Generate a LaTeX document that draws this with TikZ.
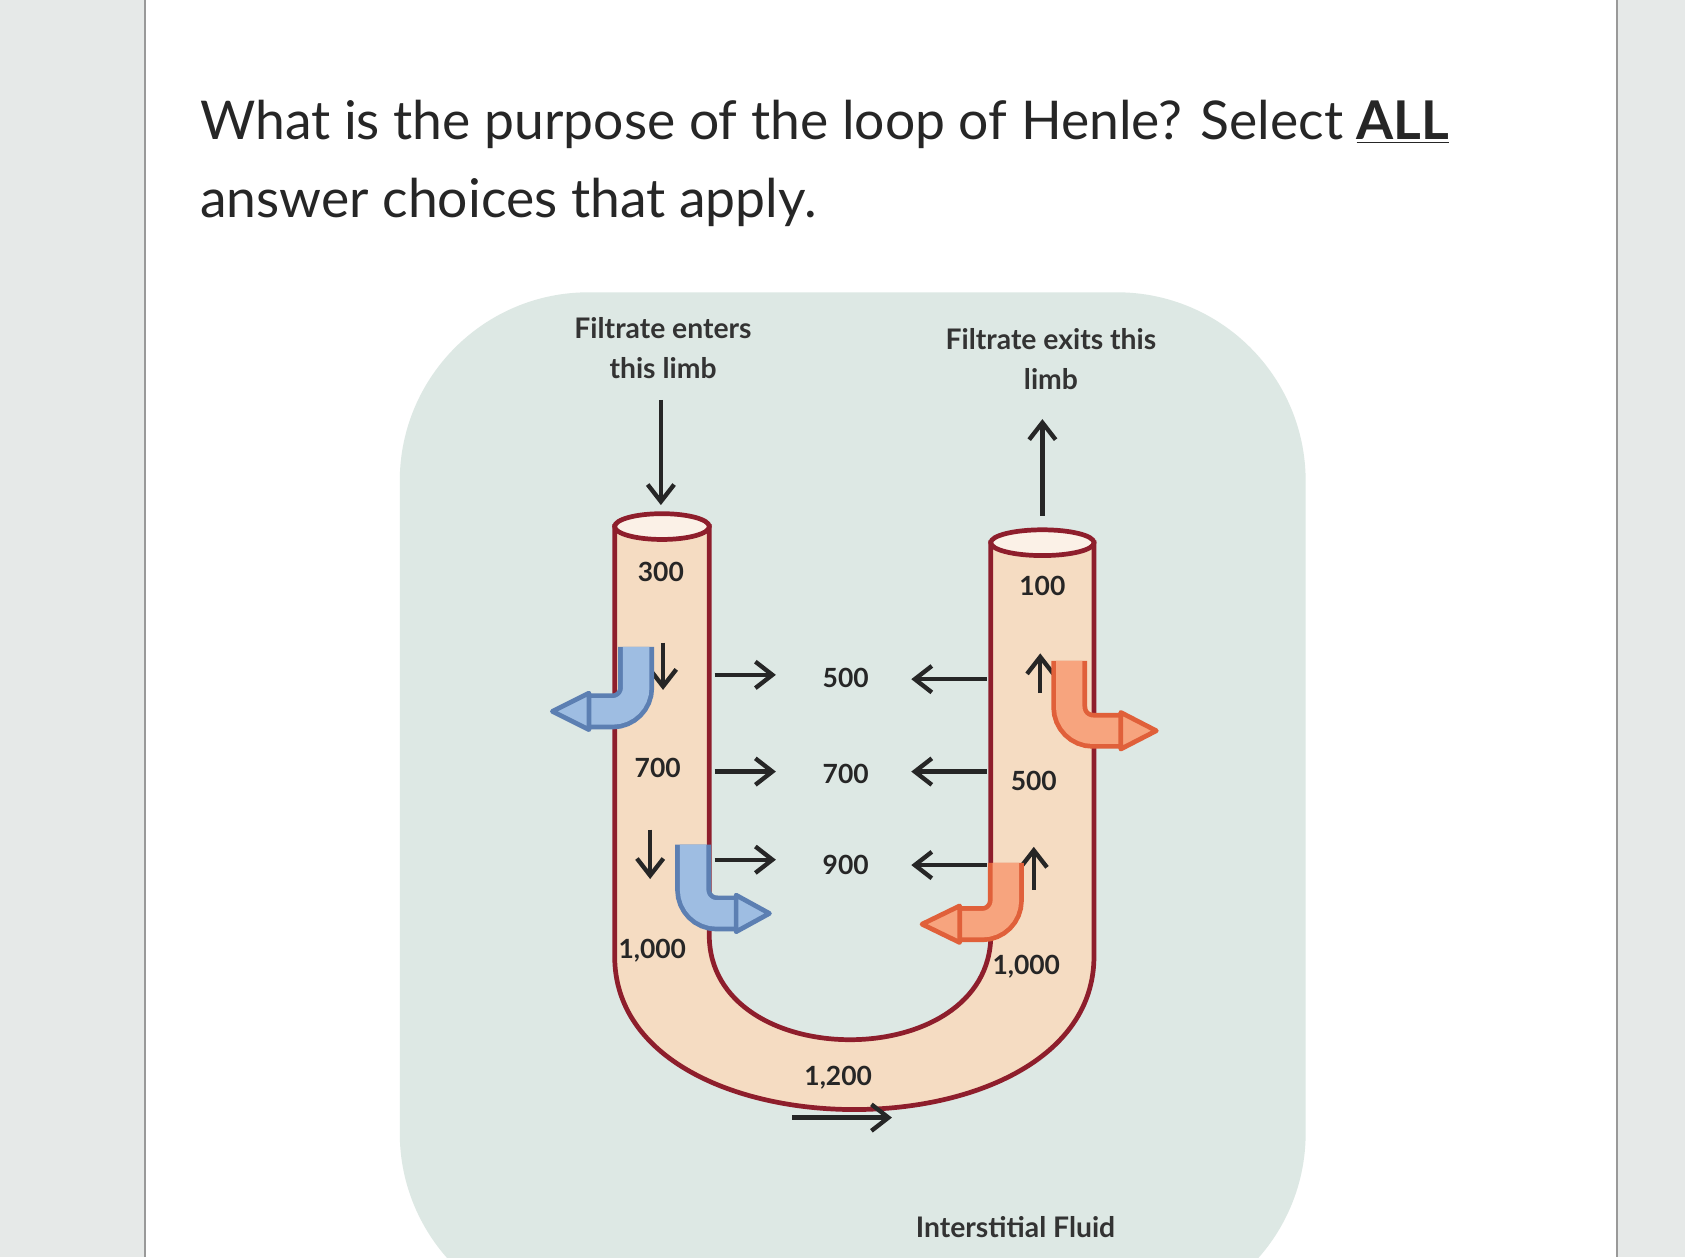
\documentclass[tikz,border=0pt]{standalone}
\usepackage{fontspec}
\setmainfont{Lato}
\usetikzlibrary{arrows.meta}
\definecolor{bgc}{HTML}{E6E9E8}
\definecolor{panel}{HTML}{DDE8E4}
\definecolor{tube}{HTML}{F5DCC2}
\definecolor{tubeline}{HTML}{8E1E2C}
\definecolor{bluef}{HTML}{9EBDE2}
\definecolor{bluel}{HTML}{5C7FB2}
\definecolor{oranf}{HTML}{F7A47E}
\definecolor{oranl}{HTML}{E0603A}
\tikzset{
 lbl/.style={font=\fontsize{15}{19}\selectfont\bfseries, text=black!80, align=center},
 num/.style={font=\fontsize{14}{18}\selectfont\bfseries, text=black!85},
 arr/.style={-{Straight Barb[length=9pt,width=14pt]}, line width=2.3pt, black!85},
}
\newcommand{\fatarrow}[4]{% fill, line, path, head coords
 \draw[#2, line width=19] #3;
 \draw[#1, line width=14] #3;
 \filldraw[fill=#1, draw=#2, line width=2.5, line join=round] #4;
}
\begin{document}
\begin{tikzpicture}[x=0.02cm,y=-0.02cm]
\useasboundingbox (0,0) rectangle (1568,1170);
\fill[bgc] (0,0) rectangle (1568,1170);
\fill[white] (135,0) rectangle (1505,1170);
\draw[black!40, line width=1] (135,0) -- (135,1170);
\draw[black!40, line width=1] (1505,0) -- (1505,1170);
\node[anchor=base west, font=\fontsize{28.3}{40}\selectfont, text=black!85] (t1) at (180,130)
 {What is the purpose of the loop of Henle? Select \underline{\textbf{ALL}}};
\node[anchor=base west, font=\fontsize{28.3}{40}\selectfont, text=black!85] (t2) at (180,202)
 {answer choices that apply.};
\fill[panel, rounded corners=100] (372,272) rectangle (1215,1230);
\node[lbl] (enter) at (617,324) {Filtrate enters\\[2pt]this limb};
\node[lbl] (exit) at (978,334) {Filtrate exits this\\[2pt]limb};
% tube
\filldraw[fill=tube, draw=tubeline, line width=2.5]
 (572,490) -- (572,890) .. controls (572,1080) and (1018,1080) .. (1018,890) -- (1018,505)
 -- (922,505) -- (922,870) .. controls (922,1000) and (660,1000) .. (660,870) -- (660,490) -- cycle;
\filldraw[fill=white!60!tube, draw=tubeline, line width=2.5] (616,490) ellipse (44 and 12);
\filldraw[fill=white!60!tube, draw=tubeline, line width=2.5] (970,505) ellipse (48 and 12);
\coordinate (a1) at (615,372); \coordinate (a2) at (615,470);
\coordinate (b1) at (970,480); \coordinate (b2) at (970,390);
\draw[arr] (a1) -- (a2);
\draw[arr] (b1) -- (b2);
\node[num] (n300) at (615,532) {300};
\node[num] (n100) at (970,545) {100};
\node[num] (m500) at (787,631) {500};
\node[num] (l700) at (612,715) {700};
\node[num] (m700) at (787,720) {700};
\node[num] (r500) at (962,727) {500};
\node[num] (m900) at (787,805) {900};
\node[num] (l1000) at (607,885) {1,000};
\node[num] (r1000) at (955,900) {1,000};
\node[num] (n1200) at (780,1003) {1,200};
\draw[arr] (737,1040) -- (830,1040);
% horizontal arrows
\foreach \y in {628,718,800} \draw[arr] (665,\y) -- (722,\y);
\foreach \y in {632,718,805} \draw[arr] (918,\y) -- (848,\y);
% small arrows
\draw[arr] (617,598) -- (617,642);
\draw[arr] (605,772) -- (605,818);
\draw[arr] (968,645) -- (968,608);
\draw[arr] (962,828) -- (962,788);
% fat arrows
\fatarrow{bluef}{bluel}{(592,602) -- (592,640) to[out=270,in=0] (570,662) -- (545,662)}{(548,645) -- (548,679) -- (514,662) -- cycle}
\fatarrow{bluef}{bluel}{(645,786) -- (645,828) to[out=270,in=180] (667,850) -- (688,850)}{(685,833) -- (685,867) -- (716,850) -- cycle}
\fatarrow{oranf}{oranl}{(995,615) -- (995,658) to[out=270,in=180] (1017,680) -- (1046,680)}{(1043,663) -- (1043,697) -- (1076,680) -- cycle}
\fatarrow{oranf}{oranl}{(936,803) -- (936,838) to[out=270,in=0] (914,860) -- (890,860)}{(893,843) -- (893,877) -- (858,860) -- cycle}
\node[lbl] (fluid) at (945,1142) {Interstitial Fluid};
\end{tikzpicture}
\end{document}
